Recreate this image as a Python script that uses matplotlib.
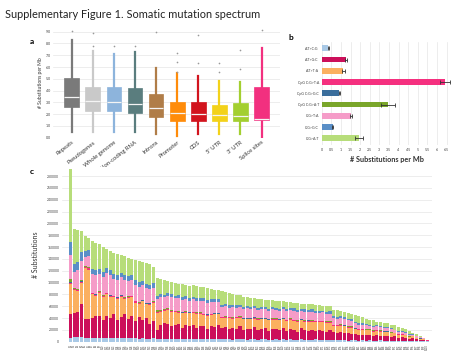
import matplotlib
matplotlib.use("Agg")
import matplotlib.pyplot as plt
import numpy as np

plt.rcParams['font.family'] = ['Lato', 'DejaVu Sans']

# ---------------- Panel a data ----------------
regions = ["Repeats", "Pseudogenes", "Whole genome", "Non-coding RNA", "Introns",
           "Promoter", "CDS", "5' UTR", "3' UTR", "Splice sites"]
box_q1 = [2.63, 2.27, 2.27, 2.07, 1.78, 1.44, 1.44, 1.44, 1.43, 1.50]
box_med = [3.43, 3.14, 3.03, 2.86, 2.50, 2.12, 1.98, 1.90, 1.87, 1.55]
box_q3 = [5.04, 4.28, 4.33, 4.19, 3.71, 3.06, 3.03, 2.78, 2.97, 4.33]
box_whislo = [0.50, 0.50, 0.50, 0.50, 0.30, 0.14, 0.30, 0.30, 0.30, 0.00]
box_whishi = [8.30, 7.40, 7.08, 7.30, 5.94, 5.47, 5.24, 4.84, 4.75, 7.60]
box_fliers = [[9.1], [8.9, 7.75], [7.75], [7.75], [9.0], [7.2, 6.4, 5.6],
              [8.7, 6.3], [6.3, 5.6], [7.45, 5.8], [9.15]]
box_colors = ['#7a7a7a', '#c9c9c9', '#8db4dc', '#5a7d7e', '#b07d48',
              '#ff8c0a', '#d2141e', '#f3d21a', '#a3cf30', '#f2307f']

# ---------------- Panel b data ----------------
sub_types = ["A:T>C:G", "A:T>G:C", "A:T>T:A", "CpG C:G>T:A", "CpG C:G>G:C",
             "CpG C:G>A:T", "C:G>T:A", "C:G>G:C", "C:G>A:T"]
sub_rates = [0.35, 1.27, 1.13, 6.42, 0.92, 3.45, 1.53, 0.57, 1.95]
sub_err = [0.03, 0.06, 0.07, 0.26, 0.04, 0.37, 0.06, 0.03, 0.20]
sub_colors = ['#a9c9e6', '#cc0f5a', '#fbb060', '#f5307f', '#3b6e9c',
              '#7aa62a', '#f59cc8', '#5a8fc7', '#b7dd7a']
b_ticks = [0, 0.5, 1, 1.5, 2, 2.5, 3, 3.5, 4, 4.5, 5, 5.5, 6, 6.5]

# ---------------- Panel c data (thousands of substitutions) ----------------
c_AT_CG = [7,8,8,8,7,7,7,6,7,6,7,6,6,7,6,6,7,6,6,5,6,5,5,6,
           5,4,5,4,4,5,4,4,5,4,4,4,5,4,4,4,5,4,
           4,4,4,3,4,4,4,3,4,4,3,4,4,3,3,4,3,4,3,4,3,3,4,3,3,3,4,3,3,3,3,
           3,3,3,3,2,3,
           3,2,3,2,3,2,2,3,2,2,2,2,2,2,2,1,2,1,1,1,0.5]
c_AT_GC = [39,40,42,55,31,31,33,37,37,31,37,34,40,29,36,41,31,38,29,37,30,35,25,29,
           14,25,27,26,22,24,26,20,24,22,25,19,21,23,18,22,20,24,
           19,21,17,20,18,22,16,19,17,21,16,18,20,15,19,17,16,20,15,18,17,14,19,16,15,17,14,16,15,13,16,
           13,12,14,11,12,10,
           10,9,8,10,8,8,9,7,8,8,6,7,5,6,5,4,4,3,2,2,1]
c_AT_TA = [52,39,35,37,87,84,40,35,38,39,36,36,29,37,34,25,36,31,31,22,32,23,32,30,
           30,22,20,24,25,21,19,24,20,22,19,24,21,18,22,19,21,18,
           17,15,19,16,18,14,18,16,17,14,18,16,14,18,15,16,17,14,17,15,15,17,13,15,16,14,15,14,15,16,13,
           11,12,10,12,10,11,
           8,9,9,7,8,7,7,7,6,6,6,5,5,4,4,3,3,2,2,1,0.5]
c_CpG_CT = [2,1.5,2,1.5,1.5,2,1.5,1.5,2,1.5,1.5,2,1.5,1.5,2,1.5,1.5,1.5,2,1.5,1.5,1.5,2,1.5,
            1.5,1.2,1.2,1.5,1.2,1.2,1.5,1.2,1.2,1.2,1.5,1.2,1.2,1.2,1.5,1.2,1.2,1.2,
            1.2,1.5,1.2,1.2,1.2,1.5,1.2,1.2,1.2,1.5,1.2,1.2,1.2,1.2,1.5,1.2,1.2,1.2,1.2,1.5,1.2,1.2,1.2,1.2,1.5,1.2,1.2,1.2,1.2,1.2,1.2,
            1,1,1.2,1,1,1,
            1.2,1,1,1,1,1.2,1,1,1,1,1,0.8,0.6,0.6,0.5,0.5,0.5,0.4,0.4,0.3,0.2]
c_CpG_CG = [0.8,0.6,0.6,0.6,0.6,0.6,0.6,0.6,0.6,0.6,0.6,0.6,0.6,0.6,0.6,0.6,0.6,0.6,0.6,0.6,0.6,0.6,0.6,0.6,
            0.5,0.5,0.5,0.5,0.5,0.5,0.5,0.5,0.5,0.5,0.5,0.5,0.5,0.5,0.5,0.5,0.5,0.5,
            0.5,0.5,0.5,0.5,0.5,0.5,0.5,0.5,0.5,0.5,0.5,0.5,0.5,0.5,0.5,0.5,0.5,0.5,0.5,0.5,0.5,0.5,0.5,0.5,0.5,0.5,0.5,0.5,0.5,0.5,0.5,
            0.4,0.4,0.4,0.4,0.4,0.4,
            0.4,0.4,0.4,0.4,0.4,0.4,0.4,0.4,0.4,0.4,0.4,0.3,0.3,0.2,0.2,0.2,0.2,0.2,0.1,0.1,0.1]
c_CpG_CA = [5,1,1,1.5,1,1,1,1,1.5,1,1,1,1,1,1,1,1,1,1,1,1,1,1,1,
            2,0.8,0.8,0.8,0.8,0.8,0.8,0.8,0.8,0.8,0.8,0.8,0.8,0.8,0.8,0.8,0.8,0.8,
            0.8,0.8,0.8,0.8,0.8,0.8,0.8,0.8,0.8,0.8,0.8,0.8,0.8,0.8,0.8,0.8,0.8,0.8,0.8,0.8,0.8,0.8,0.8,0.8,0.8,0.8,0.8,0.8,0.8,0.8,0.8,
            0.6,0.6,0.6,0.6,0.6,0.6,
            0.6,0.6,0.6,0.6,0.6,0.6,0.6,0.6,0.6,0.6,0.6,0.3,0.3,0.3,0.3,0.3,0.3,0.3,0.3,0.2,0.2]
c_CG_TA = [41,27,33,33,15,20,32,31,29,31,33,33,28,28,29,29,25,26,27,25,24,24,23,22,
           20,22,21,20,22,21,22,20,21,19,21,20,20,21,19,20,19,19,
           16,17,15,17,15,16,15,16,14,15,14,15,15,14,15,14,14,15,14,14,15,13,14,14,13,14,13,13,14,13,13,
           11,10,11,10,10,9,
           8,7,7,7,6,6,6,6,5,5,5,4,4,4,3,3,2,2,1.5,1,0.5]
c_CG_GC = [21,14,13,15,10,9,8,9,8,8,9,8,8,9,8,8,9,8,8,9,8,8,8,9,
           5,5,4,5,5,4,5,5,4,5,4,5,4,5,4,5,4,4,
           4,4,4,4,4,3,4,4,4,3,4,4,4,3,4,4,3,4,4,3,4,4,3,4,3,4,3,4,3,3,4,
           3,3,3,3,3,3,
           2,2,2,2,2,2,2,1.5,1.5,1.5,1.5,1,1,1,1,1,0.5,0.5,0.5,0.3,0.2]
c_CG_AT = [125,59,55,35,25,20,47,46,42,42,32,33,36,35,30,32,31,28,34,36,32,35,34,28,
           30.5,25.5,24.5,20.5,20.5,22.5,19.5,21.5,19.5,20.5,19.5,19.5,19.5,18.5,21.5,16.5,16.5,15.5,
           23.5,20.5,20.5,17.5,17.5,16.5,16.5,14.5,15.5,13.5,15.5,12.5,11.5,14.5,11.5,11.5,13.5,8.5,11.5,10.5,9.5,11.5,8.5,9.5,10.5,8.5,10.5,9.5,8.5,10.5,8.5,
           11,11,9,10,10,9,
           12,12,10,9,8,9,6,6.5,7.5,6.5,6.5,7,7,5,5,5,2.5,3.5,2,0.7,0.3]
c_layers = [c_AT_CG, c_AT_GC, c_AT_TA, c_CpG_CT, c_CpG_CG, c_CpG_CA, c_CG_TA, c_CG_GC, c_CG_AT]
samples = [f"S{i+1}" for i in range(len(c_AT_CG))]
c_yticks = [0, 20000, 40000, 60000, 80000, 100000, 120000, 140000, 160000,
            180000, 200000, 220000, 240000, 260000, 280000]

W, H = 474, 355
fig = plt.figure(figsize=(W / 100, H / 100), dpi=100)
fig.patch.set_facecolor('white')

def fx(x):
    return x / W

def fy(y):
    return 1 - y / H

grid_col = '#e6e6e6'
txt_col = '#404040'

# ---------------- Title and panel letters ----------------
fig.text(fx(5), fy(14), "Supplementary Figure 1. Somatic mutation spectrum",
         fontsize=7.9, color='#222222', va='center', ha='left')
fig.text(fx(31.5), fy(42), "a", fontsize=6, fontweight='bold', va='center', ha='center')
fig.text(fx(291), fy(37), "b", fontsize=6, fontweight='bold', va='center', ha='center')
fig.text(fx(31.5), fy(171), "c", fontsize=6, fontweight='bold', va='center', ha='center')

# ---------------- Panel a ----------------
axa = fig.add_axes([fx(53), fy(137.7), fx(280) - fx(53), fy(28.15) - fy(137.7)])
stats = []
for i, name in enumerate(regions):
    stats.append(dict(label=name, q1=box_q1[i], med=box_med[i], q3=box_q3[i],
                      whislo=box_whislo[i], whishi=box_whishi[i], fliers=box_fliers[i]))
bp = axa.bxp(stats, positions=np.arange(len(regions)), widths=0.7, patch_artist=True,
             showcaps=False,
             flierprops=dict(marker='o', markersize=1.2, markerfacecolor='#999999',
                             markeredgecolor='none'),
             medianprops=dict(color='#f4f4f4', linewidth=0.9))
for i, c in enumerate(box_colors):
    bp['boxes'][i].set_facecolor(c)
    bp['boxes'][i].set_edgecolor(c)
    bp['boxes'][i].set_linewidth(0.5)
    for w in bp['whiskers'][2 * i:2 * i + 2]:
        w.set_color(c)
        w.set_linewidth(1.6)
axa.set_xlim(-0.886, 9.872)
axa.set_ylim(0, 9.3)
axa.set_yticks(np.arange(0, 10, 1.0))
axa.set_yticklabels([f"{v:.1f}" for v in np.arange(0, 10, 1.0)], fontsize=2.6, color=txt_col)
axa.set_xticks(np.arange(len(regions)))
axa.set_xticklabels(regions, rotation=38, ha='right', rotation_mode='anchor',
                    fontsize=4.2, color='#333333')
axa.tick_params(axis='both', length=0, pad=1.5)
axa.grid(axis='y', color=grid_col, linewidth=0.5)
axa.set_axisbelow(True)
for s in axa.spines.values():
    s.set_visible(False)
axa.set_ylabel("# Substitutions per Mb", fontsize=3.6, color='#333333', labelpad=2)

# ---------------- Panel b ----------------
axb = fig.add_axes([fx(321.7), fy(145), fx(451.3) - fx(321.7), fy(41.55) - fy(145)])
ypos = np.arange(len(sub_types))
axb.barh(ypos, sub_rates, height=0.52, color=sub_colors, xerr=sub_err,
         error_kw=dict(ecolor='#333333', elinewidth=0.6, capsize=1.2, capthick=0.6))
axb.set_ylim(8.6, -0.6)
axb.set_xlim(0, 6.75)
axb.set_xticks(b_ticks)
axb.set_xticklabels([f"{t:g}" for t in b_ticks], fontsize=2.6, color=txt_col)
axb.set_yticks(ypos)
axb.set_yticklabels(sub_types, fontsize=2.6, color=txt_col)
axb.tick_params(axis='both', length=0, pad=2)
axb.grid(axis='x', color=grid_col, linewidth=0.5)
axb.set_axisbelow(True)
for s in axb.spines.values():
    s.set_visible(False)
axb.set_xlabel("# Substitutions per Mb", fontsize=5.2, fontweight='bold',
               color='#333333', labelpad=3)

# ---------------- Panel c ----------------
axc = fig.add_axes([fx(62), fy(341.7), fx(432) - fx(62), fy(167.2) - fy(341.7)])
xpos = np.arange(len(samples))
bottom = np.zeros(len(samples))
for vals, col in zip(c_layers, sub_colors):
    v = np.array(vals, dtype=float) * 1000
    axc.bar(xpos, v, bottom=bottom, width=0.86, color=col, linewidth=0)
    bottom += v
axc.set_xlim(-2.4, 100.3)
axc.set_ylim(0, 295000)
axc.set_yticks(c_yticks)
axc.set_yticklabels([f"{t}" for t in c_yticks], fontsize=2.4, color=txt_col)
axc.set_xticks(xpos)
axc.set_xticklabels(samples, rotation=90, fontsize=1.8, color=txt_col)
axc.tick_params(axis='both', length=0, pad=2)
axc.grid(axis='y', color=grid_col, linewidth=0.5)
axc.set_axisbelow(True)
for s in axc.spines.values():
    s.set_visible(False)
axc.set_ylabel("# Substitutions", fontsize=5, color='#333333', labelpad=6)

fig.savefig("out.png", dpi=100, facecolor='white')
